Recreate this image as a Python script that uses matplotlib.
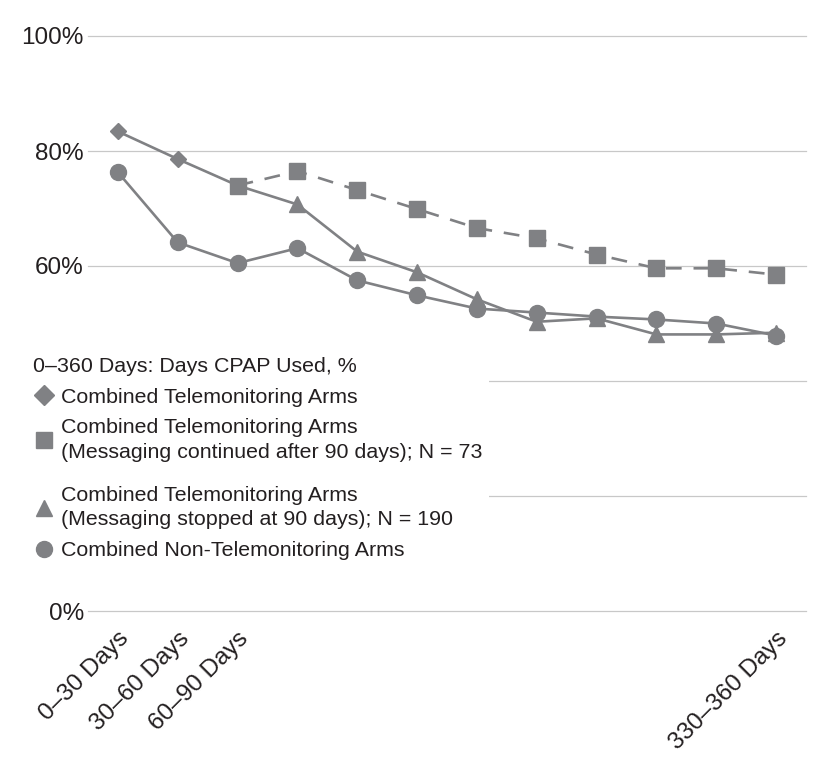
import matplotlib
matplotlib.use("Agg")
import matplotlib.pyplot as plt
import matplotlib.transforms as mtransforms
from matplotlib.lines import Line2D

plt.rcParams['font.family'] = ['Liberation Sans', 'DejaVu Sans']

# data (% of days CPAP used)
periods = ["0–30 Days", "30–60 Days", "60–90 Days", "90–120 Days", "120–150 Days",
           "150–180 Days", "180–210 Days", "210–240 Days", "240–270 Days",
           "270–300 Days", "300–330 Days", "330–360 Days"]
shown_labels = ["0–30 Days", "30–60 Days", "60–90 Days", "330–360 Days"]

tele_first90 = [83.4, 78.6, 74.0]
msg_continued = [74.0, 76.5, 73.2, 69.9, 66.6, 64.8, 62.0, 59.6, 59.6, 58.5]
msg_stopped = [74.0, 70.7, 62.5, 58.9, 54.2, 50.3, 50.9, 48.1, 48.1, 48.4]
non_tele = [76.3, 64.1, 60.5, 63.1, 57.5, 54.9, 52.6, 51.9, 51.2, 50.7, 50.0, 47.9]

yticks = [0, 20, 40, 60, 80, 100]
ytick_labels = ["0%", "", "", "60%", "80%", "100%"]

legend_title = "0–360 Days: Days CPAP Used, %"
legend_labels = ["Combined Telemonitoring Arms",
                 "Combined Telemonitoring Arms\n(Messaging continued after 90 days); N = 73",
                 "Combined Telemonitoring Arms\n(Messaging stopped at 90 days); N = 190",
                 "Combined Non-Telemonitoring Arms"]

gray = "#808184"
txt = "#231f20"
fs_tick = 17.5
fs_leg = 15.4

fig = plt.figure(figsize=(8.21, 7.57), dpi=100)
ax = fig.add_axes([88/821, 1 - 611/757, (806 - 88)/821, (611 - 36)/757])

x_all = list(range(len(periods)))
x_late = x_all[2:]

ax.plot(x_all[:3], tele_first90, color=gray, lw=1.9, marker="D", ms=8.5,
        markevery=[0, 1], zorder=3)
ax.plot(x_late, msg_stopped, color=gray, lw=1.9, marker="^", ms=12,
        markevery=list(range(1, len(x_late))), zorder=3)
ax.plot(x_late, msg_continued, color=gray, lw=1.9, marker="s", ms=12,
        dashes=(6, 4.5), zorder=4)
ax.plot(x_all, non_tele, color=gray, lw=1.9, marker="o", ms=11.5, zorder=3)

ax.set_xlim(-0.5, len(periods) - 0.5)
ax.set_ylim(0, 100)
ax.set_yticks(yticks)
ax.set_yticklabels(ytick_labels)
ax.yaxis.grid(True, color="#c8c8c8", lw=0.9)
for gl in ax.get_ygridlines():
    gl.set_clip_on(False)
ax.set_axisbelow(True)
for s in ax.spines.values():
    s.set_visible(False)
ax.tick_params(axis="both", length=0, labelsize=fs_tick, colors=txt)
ax.tick_params(axis="y", pad=3)

ax.set_xticks(x_all)
ax.set_xticklabels([p if p in shown_labels else "" for p in periods])
offset = mtransforms.ScaledTranslation(6/100, 0, fig.dpi_scale_trans)
for lab in ax.get_xticklabels():
    lab.set_rotation(45)
    lab.set_ha("right")
    lab.set_va("top")
    lab.set_rotation_mode("anchor")
    lab.set_transform(lab.get_transform() + offset)
ax.tick_params(axis="x", pad=12)

handles = [
    Line2D([], [], ls="none", marker="D", ms=10, color=gray),
    Line2D([], [], ls="none", marker="s", ms=11.5, color=gray),
    Line2D([], [], ls="none", marker="^", ms=12, color=gray),
    Line2D([], [], ls="none", marker="o", ms=11.5, color=gray),
]
leg_w = (489 - 24) / 821
leg_kw = dict(loc="upper left", bbox_transform=fig.transFigure, borderaxespad=0,
              frameon=True, fancybox=False, framealpha=1, facecolor="white",
              edgecolor="none", fontsize=fs_leg, handlelength=1.05,
              handletextpad=0.3, labelspacing=0.55, borderpad=0.4, mode="expand")

# legend split in two blocks, the lower block sits a bit further down
leg1 = ax.legend(handles[:2], legend_labels[:2], title=legend_title,
                 title_fontsize=fs_leg, alignment="left",
                 bbox_to_anchor=(24/821, 1 - 349/757, leg_w, 0.001), **leg_kw)
ax.add_artist(leg1)
leg2 = ax.legend(handles[2:], legend_labels[2:],
                 bbox_to_anchor=(24/821, 1 - 478/757, leg_w, 0.001), **leg_kw)
for leg in (leg1, leg2):
    for t in leg.get_texts():
        t.set_color(txt)
        t.set_linespacing(1.38)
    leg.set_zorder(5)
leg1.get_title().set_color(txt)

fig.savefig("out.png", dpi=100)
